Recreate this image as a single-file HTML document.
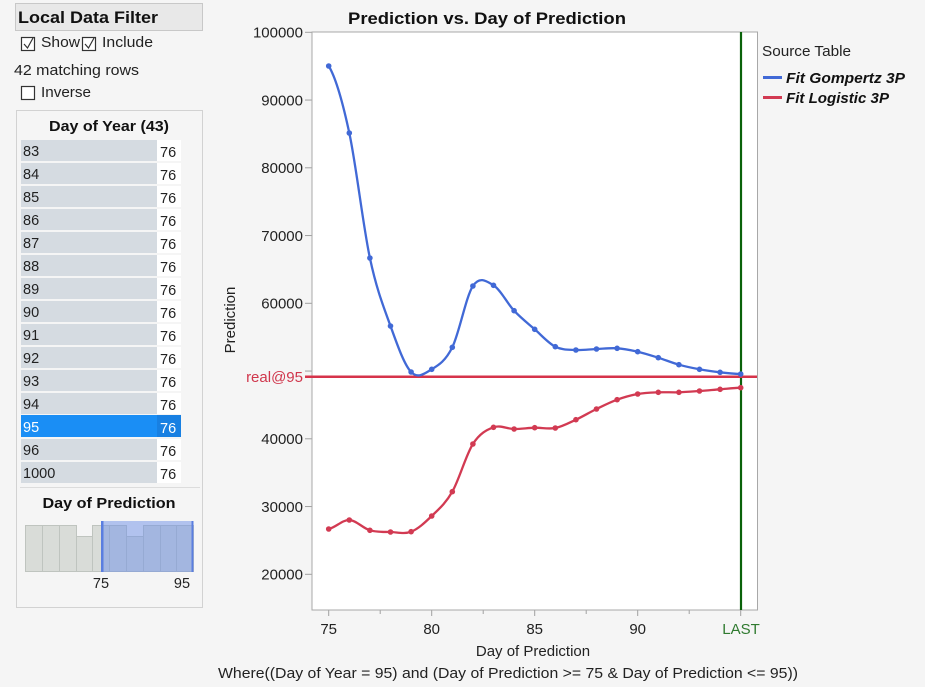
<!DOCTYPE html>
<html><head><meta charset="utf-8"><style>
html,body{margin:0;padding:0;background:#f5f5f5;}
svg{display:block;font-family:"Liberation Sans",sans-serif;}
</style></head><body>
<svg width="925" height="687" viewBox="0 0 925 687" xmlns="http://www.w3.org/2000/svg">
<rect x="0" y="0" width="925" height="687" fill="#f5f5f5"/>

<!-- Left panel -->
<rect x="15.5" y="3.5" width="187" height="27" fill="#e8e8e8" stroke="#c8c8c8"/>
<text x="18" y="23" font-size="17" font-weight="bold" fill="#111" textLength="140" lengthAdjust="spacingAndGlyphs">Local Data Filter</text>

<g fill="none" stroke="#333" stroke-width="1.2">
<rect x="21.5" y="37.5" width="13" height="13" fill="#fff"/>
<path d="M24,44 L27.5,48 L33,38"/>
<rect x="82.5" y="37.5" width="13" height="13" fill="#fff"/>
<path d="M85,44 L88.5,48 L94,38"/>
<rect x="21.5" y="86.5" width="13" height="13" fill="#fff"/>
</g>
<text x="41" y="47" font-size="15" fill="#222" textLength="39" lengthAdjust="spacingAndGlyphs">Show</text>
<text x="102" y="47" font-size="15" fill="#222" textLength="51" lengthAdjust="spacingAndGlyphs">Include</text>
<text x="14" y="75" font-size="15" fill="#222" textLength="125" lengthAdjust="spacingAndGlyphs">42 matching rows</text>
<text x="41" y="97" font-size="15" fill="#222" textLength="50" lengthAdjust="spacingAndGlyphs">Inverse</text>

<rect x="16.5" y="110.5" width="186" height="497" fill="#f5f5f5" stroke="#d2d2d2"/>
<text x="109" y="131" font-size="15" font-weight="bold" text-anchor="middle" fill="#111" textLength="120" lengthAdjust="spacingAndGlyphs">Day of Year (43)</text>

<g font-size="14.5" fill="#222">
<rect x="21" y="140" width="136" height="21" fill="#d5dbe1"/><rect x="157" y="140" width="24" height="21" fill="#fff"/>
<text x="23" y="156">83</text><text x="160" y="157">76</text>
<rect x="21" y="163" width="136" height="21" fill="#d5dbe1"/><rect x="157" y="163" width="24" height="21" fill="#fff"/>
<text x="23" y="179">84</text><text x="160" y="180">76</text>
<rect x="21" y="186" width="136" height="21" fill="#d5dbe1"/><rect x="157" y="186" width="24" height="21" fill="#fff"/>
<text x="23" y="202">85</text><text x="160" y="203">76</text>
<rect x="21" y="209" width="136" height="21" fill="#d5dbe1"/><rect x="157" y="209" width="24" height="21" fill="#fff"/>
<text x="23" y="225">86</text><text x="160" y="226">76</text>
<rect x="21" y="232" width="136" height="21" fill="#d5dbe1"/><rect x="157" y="232" width="24" height="21" fill="#fff"/>
<text x="23" y="248">87</text><text x="160" y="249">76</text>
<rect x="21" y="255" width="136" height="21" fill="#d5dbe1"/><rect x="157" y="255" width="24" height="21" fill="#fff"/>
<text x="23" y="271">88</text><text x="160" y="272">76</text>
<rect x="21" y="278" width="136" height="21" fill="#d5dbe1"/><rect x="157" y="278" width="24" height="21" fill="#fff"/>
<text x="23" y="294">89</text><text x="160" y="295">76</text>
<rect x="21" y="301" width="136" height="21" fill="#d5dbe1"/><rect x="157" y="301" width="24" height="21" fill="#fff"/>
<text x="23" y="317">90</text><text x="160" y="318">76</text>
<rect x="21" y="324" width="136" height="21" fill="#d5dbe1"/><rect x="157" y="324" width="24" height="21" fill="#fff"/>
<text x="23" y="340">91</text><text x="160" y="341">76</text>
<rect x="21" y="347" width="136" height="21" fill="#d5dbe1"/><rect x="157" y="347" width="24" height="21" fill="#fff"/>
<text x="23" y="363">92</text><text x="160" y="364">76</text>
<rect x="21" y="370" width="136" height="21" fill="#d5dbe1"/><rect x="157" y="370" width="24" height="21" fill="#fff"/>
<text x="23" y="386">93</text><text x="160" y="387">76</text>
<rect x="21" y="393" width="136" height="21" fill="#d5dbe1"/><rect x="157" y="393" width="24" height="21" fill="#fff"/>
<text x="23" y="409">94</text><text x="160" y="410">76</text>
<rect x="21" y="415" width="136" height="22" fill="#1a8ef5"/><rect x="157" y="415" width="24" height="22" fill="#1880e2"/>
<text x="23" y="432" fill="#fff">95</text><text x="160" y="433" fill="#fff">76</text>
<rect x="21" y="439" width="136" height="21" fill="#d5dbe1"/><rect x="157" y="439" width="24" height="21" fill="#fff"/>
<text x="23" y="455">96</text><text x="160" y="456">76</text>
<rect x="21" y="462" width="136" height="21" fill="#d5dbe1"/><rect x="157" y="462" width="24" height="21" fill="#fff"/>
<text x="23" y="478">1000</text><text x="160" y="479">76</text>
</g>
<line x1="20" y1="487.5" x2="200" y2="487.5" stroke="#dcdcdc"/>
<text x="109" y="508" font-size="15" font-weight="bold" text-anchor="middle" fill="#111" textLength="133" lengthAdjust="spacingAndGlyphs">Day of Prediction</text>

<!-- histogram -->
<g stroke="#bfc4bf" stroke-width="1" fill="#d9dcd8">
<rect x="25.5" y="525.5" width="17" height="46"/>
<rect x="42.5" y="525.5" width="17" height="46"/>
<rect x="59.5" y="525.5" width="17" height="46"/>
<rect x="76.5" y="536.5" width="16" height="35"/>
<rect x="92.5" y="525.5" width="17" height="46"/>
<rect x="109.5" y="525.5" width="17" height="46"/>
<rect x="126.5" y="536.5" width="17" height="35"/>
<rect x="143.5" y="525.5" width="17" height="46"/>
<rect x="160.5" y="525.5" width="16" height="46"/>
<rect x="176.5" y="525.5" width="17" height="46"/>
</g>
<rect x="101" y="521" width="92" height="51" fill="#6d8fe8" fill-opacity="0.5"/>
<rect x="101" y="521" width="2.5" height="51" fill="#5a7ee0"/>
<rect x="191.5" y="521" width="2" height="51" fill="#5a7ee0"/>
<text x="101" y="588" font-size="14.5" text-anchor="middle" fill="#222">75</text>
<text x="182" y="588" font-size="14.5" text-anchor="middle" fill="#222">95</text>

<!-- Chart -->
<text x="487" y="24" font-size="17" font-weight="bold" text-anchor="middle" fill="#111" textLength="278" lengthAdjust="spacingAndGlyphs">Prediction vs. Day of Prediction</text>

<rect x="312" y="32" width="445.5" height="578" fill="#fff"/>

<!-- y ticks -->
<g stroke="#a0a0a0" stroke-width="1">
<line x1="305" y1="32.3" x2="312" y2="32.3"/>
<line x1="305" y1="100.05" x2="312" y2="100.05"/>
<line x1="305" y1="167.8" x2="312" y2="167.8"/>
<line x1="305" y1="235.55" x2="312" y2="235.55"/>
<line x1="305" y1="303.3" x2="312" y2="303.3"/>
<line x1="305" y1="371.05" x2="312" y2="371.05"/>
<line x1="305" y1="438.8" x2="312" y2="438.8"/>
<line x1="305" y1="506.55" x2="312" y2="506.55"/>
<line x1="305" y1="574.3" x2="312" y2="574.3"/>
<line x1="328.7" y1="610" x2="328.7" y2="616"/>
<line x1="431.7" y1="610" x2="431.7" y2="616"/>
<line x1="534.7" y1="610" x2="534.7" y2="616"/>
<line x1="637.7" y1="610" x2="637.7" y2="616"/>
<line x1="740.7" y1="610" x2="740.7" y2="616"/>
<line x1="380.2" y1="610" x2="380.2" y2="614"/>
<line x1="483.2" y1="610" x2="483.2" y2="614"/>
<line x1="586.2" y1="610" x2="586.2" y2="614"/>
<line x1="689.2" y1="610" x2="689.2" y2="614"/>
</g>
<rect x="312" y="32" width="445.5" height="578" fill="none" stroke="#a8a8a8" stroke-width="1"/>

<g font-size="15" fill="#222" text-anchor="end">
<text x="303" y="37.5">100000</text>
<text x="303" y="105.3">90000</text>
<text x="303" y="173">80000</text>
<text x="303" y="240.8">70000</text>
<text x="303" y="308.5">60000</text>
<text x="303" y="444">40000</text>
<text x="303" y="511.8">30000</text>
<text x="303" y="579.5">20000</text>
</g>
<text x="303" y="382" font-size="15" fill="#d0364c" text-anchor="end">real@95</text>
<text transform="translate(235,320) rotate(-90)" font-size="15" fill="#222" text-anchor="middle">Prediction</text>

<g font-size="15" fill="#222" text-anchor="middle">
<text x="328.7" y="634">75</text>
<text x="431.7" y="634">80</text>
<text x="534.7" y="634">85</text>
<text x="637.7" y="634">90</text>
</g>
<text x="741" y="634" font-size="15" fill="#2f7a2f" text-anchor="middle">LAST</text>
<text x="533" y="656" font-size="15" fill="#222" text-anchor="middle">Day of Prediction</text>
<text x="508" y="678" font-size="15" fill="#222" text-anchor="middle" textLength="580" lengthAdjust="spacingAndGlyphs">Where((Day of Year = 95) and (Day of Prediction &gt;= 75 &amp; Day of Prediction &lt;= 95))</text>

<!-- reference lines -->
<line x1="741" y1="32" x2="741" y2="610" stroke="#0a620a" stroke-width="2.2"/>
<line x1="305" y1="376.7" x2="757" y2="376.7" stroke="#d6334a" stroke-width="2.5"/>

<!-- Blue -->
<path fill="none" stroke="#4169d6" stroke-width="2.3" d="M328.7,66 C335.57,77.17 342.43,101 349.3,133 C356.17,165 363.03,225.83 369.9,258 C376.77,290.17 383.63,307 390.5,326 C397.37,345 404.23,364.78 411.1,372 C417.97,379.22 424.83,373.42 431.7,369.3 C438.57,365.18 445.43,361.18 452.3,347.3 C459.17,333.42 466.03,296.33 472.9,286 C479.77,275.67 486.63,281.18 493.5,285.3 C500.37,289.42 507.23,303.37 514.1,310.7 C520.97,318.03 527.83,323.3 534.7,329.3 C541.57,335.3 548.43,343.25 555.3,346.7 C562.17,350.15 569.03,349.62 575.9,350 C582.77,350.38 589.63,349.28 596.5,349 C603.37,348.72 610.23,347.85 617.1,348.3 C623.97,348.75 630.83,350.13 637.7,351.7 C644.57,353.27 651.43,355.53 658.3,357.7 C665.17,359.87 672.03,362.77 678.9,364.7 C685.77,366.63 692.63,368.03 699.5,369.3 C706.37,370.57 713.23,371.52 720.1,372.3 C726.97,373.08 733.83,373.72 740.7,374"/>
<g fill="#4169d6">
<circle cx="328.7" cy="66" r="2.8"/><circle cx="349.3" cy="133" r="2.8"/><circle cx="369.9" cy="258" r="2.8"/><circle cx="390.5" cy="326" r="2.8"/><circle cx="411.1" cy="372" r="2.8"/><circle cx="431.7" cy="369.3" r="2.8"/><circle cx="452.3" cy="347.3" r="2.8"/><circle cx="472.9" cy="286" r="2.8"/><circle cx="493.5" cy="285.3" r="2.8"/><circle cx="514.1" cy="310.7" r="2.8"/><circle cx="534.7" cy="329.3" r="2.8"/><circle cx="555.3" cy="346.7" r="2.8"/><circle cx="575.9" cy="350" r="2.8"/><circle cx="596.5" cy="349" r="2.8"/><circle cx="617.1" cy="348.3" r="2.8"/><circle cx="637.7" cy="351.7" r="2.8"/><circle cx="658.3" cy="357.7" r="2.8"/><circle cx="678.9" cy="364.7" r="2.8"/><circle cx="699.5" cy="369.3" r="2.8"/><circle cx="720.1" cy="372.3" r="2.8"/><circle cx="740.7" cy="374" r="2.8"/>
</g>

<!-- Red -->
<path fill="none" stroke="#d23a52" stroke-width="2.3" d="M328.7,529 C335.57,527.5 342.43,519.78 349.3,520 C356.17,520.22 363.03,528.3 369.9,530.3 C376.77,532.3 383.63,531.77 390.5,532 C397.37,532.23 404.23,534.37 411.1,531.7 C417.97,529.03 424.83,522.67 431.7,516 C438.57,509.33 445.43,503.7 452.3,491.7 C459.17,479.7 466.03,454.73 472.9,444 C479.77,433.27 486.63,429.8 493.5,427.3 C500.37,424.8 507.23,428.93 514.1,429 C520.97,429.07 527.83,427.87 534.7,427.7 C541.57,427.53 548.43,429.33 555.3,428 C562.17,426.67 569.03,422.87 575.9,419.7 C582.77,416.53 589.63,412.33 596.5,409 C603.37,405.67 610.23,402.2 617.1,399.7 C623.97,397.2 630.83,395.23 637.7,394 C644.57,392.77 651.43,392.58 658.3,392.3 C665.17,392.02 672.03,392.52 678.9,392.3 C685.77,392.08 692.63,391.5 699.5,391 C706.37,390.5 713.23,389.85 720.1,389.3 C726.97,388.75 733.83,387.97 740.7,387.7"/>
<g fill="#d23a52">
<circle cx="328.7" cy="529" r="2.8"/><circle cx="349.3" cy="520" r="2.8"/><circle cx="369.9" cy="530.3" r="2.8"/><circle cx="390.5" cy="532" r="2.8"/><circle cx="411.1" cy="531.7" r="2.8"/><circle cx="431.7" cy="516" r="2.8"/><circle cx="452.3" cy="491.7" r="2.8"/><circle cx="472.9" cy="444" r="2.8"/><circle cx="493.5" cy="427.3" r="2.8"/><circle cx="514.1" cy="429" r="2.8"/><circle cx="534.7" cy="427.7" r="2.8"/><circle cx="555.3" cy="428" r="2.8"/><circle cx="575.9" cy="419.7" r="2.8"/><circle cx="596.5" cy="409" r="2.8"/><circle cx="617.1" cy="399.7" r="2.8"/><circle cx="637.7" cy="394" r="2.8"/><circle cx="658.3" cy="392.3" r="2.8"/><circle cx="678.9" cy="392.3" r="2.8"/><circle cx="699.5" cy="391" r="2.8"/><circle cx="720.1" cy="389.3" r="2.8"/><circle cx="740.7" cy="387.7" r="2.8"/>
</g>

<!-- Legend -->
<text x="762" y="56" font-size="15" fill="#222" textLength="89" lengthAdjust="spacingAndGlyphs">Source Table</text>
<line x1="763" y1="77.5" x2="782" y2="77.5" stroke="#4169d6" stroke-width="3"/>
<text x="786" y="83" font-size="15" font-weight="bold" font-style="italic" fill="#111" textLength="119" lengthAdjust="spacingAndGlyphs">Fit Gompertz 3P</text>
<line x1="763" y1="97.5" x2="782" y2="97.5" stroke="#d23a52" stroke-width="3"/>
<text x="786" y="103" font-size="15" font-weight="bold" font-style="italic" fill="#111" textLength="103" lengthAdjust="spacingAndGlyphs">Fit Logistic 3P</text>
</svg>
</body></html>
